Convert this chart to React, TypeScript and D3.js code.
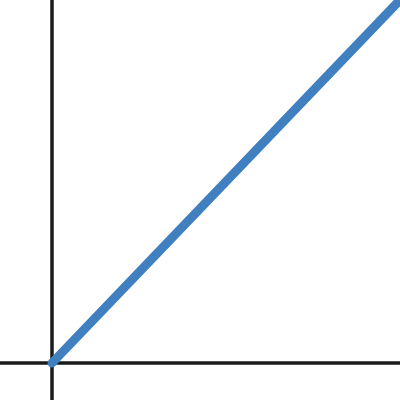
import React from "react";
import * as d3 from "d3";

const xValues = [0, 1];
const yValues = [0, 1];

const W = 400;
const H = 400;

export default function App() {
  const x = d3.scaleLinear().domain([0, 1]).range([52, 400]);
  const y = d3.scaleLinear().domain([0, 1]).range([363, 0]);
  const pts: [number, number][] = xValues.map((v, i) => [v, yValues[i]]);
  const line = d3
    .line<[number, number]>()
    .x((d) => x(d[0]))
    .y((d) => y(d[1]));
  return (
    <div style={{ position: "fixed", left: 0, top: 0 }}>
      <svg width={W} height={H} style={{ display: "block", background: "#fff" }}>
        <line x1={0} x2={W} y1={y(0)} y2={y(0)} stroke="#1a1a1a" strokeWidth={3.5} />
        <line x1={x(0)} x2={x(0)} y1={0} y2={H} stroke="#1a1a1a" strokeWidth={3.5} />
        <path
          d={line(pts) || ""}
          fill="none"
          stroke="#4080c0"
          strokeWidth={9}
          strokeLinecap="round"
        />
      </svg>
    </div>
  );
}
